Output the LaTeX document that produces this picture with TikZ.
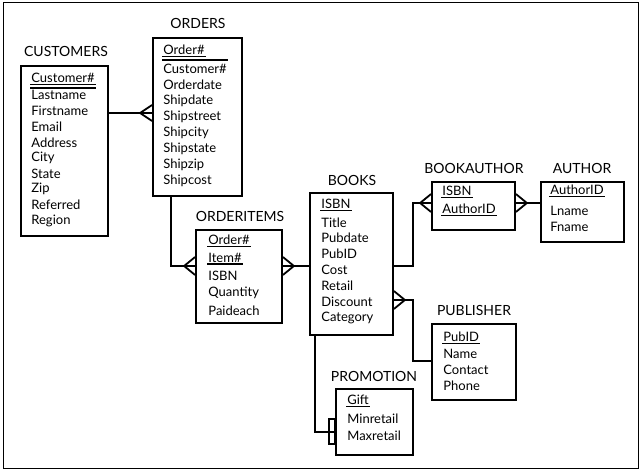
\documentclass[tikz,border=0pt]{standalone}
\usepackage{fontspec}
\setmainfont{Lato}
\begin{document}
\begin{tikzpicture}[x=1pt,y=-1pt,line width=1.8pt,
  box/.style={draw,rectangle,inner sep=0pt},
  ttl/.style={font=\fontsize{14}{14}\selectfont,inner sep=0pt},
  attr/.style={font=\fontsize{13}{13}\selectfont,anchor=west,inner sep=0.5pt},
  key/.style={attr,append after command={(\tikzlastnode.south west) edge[line width=1.3pt] (\tikzlastnode.south east)}}]
\useasboundingbox (0,0) rectangle (642,476);
\draw[line width=1pt] (3,3) rectangle (638,468);
% boxes
\node[box,minimum width=87,minimum height=170] (cust) at (64.5,151) {};
\node[box,minimum width=89,minimum height=158] (ord) at (197.5,117) {};
\node[box,minimum width=86,minimum height=93] (oi) at (239,276.5) {};
\node[box,minimum width=83,minimum height=142] (bk) at (351.5,264) {};
\node[box,minimum width=83,minimum height=48] (ba) at (473.5,206) {};
\node[box,minimum width=83,minimum height=60] (au) at (582.5,212) {};
\node[box,minimum width=84,minimum height=76] (pub) at (474,362) {};
\node[box,minimum width=77,minimum height=66] (pro) at (374.5,422) {};
% titles
\node[ttl] (tc) at (66,51) {CUSTOMERS};
\node[ttl] (to) at (198,23) {ORDERS};
\node[ttl] (toi) at (240,216) {ORDERITEMS};
\node[ttl] (tb) at (352,180) {BOOKS};
\node[ttl] (tba) at (474,168) {BOOKAUTHOR};
\node[ttl] (tau) at (582,168) {AUTHOR};
\node[ttl] (tp) at (474,310) {PUBLISHER};
\node[ttl] (tpr) at (374,376) {PROMOTION};
% CUSTOMERS
\node[key] (c1) at (30,78) {Customer\#};
\draw[line width=1.3pt] (30,88) -- (96,88);
\foreach \t/\y [count=\i] in {Lastname/95,Firstname/111,Email/127,Address/143,City/158,State/174,Zip/189,Referred/205,Region/221}
  \node[attr] (c\i x) at (30,\y) {\t};
% ORDERS
\node[key] (o1) at (162,50) {Order\#};
\draw[line width=1.3pt] (162,60) -- (228,60);
\foreach \t/\y [count=\i] in {Customer\#/69,Orderdate/85,Shipdate/101,Shipstreet/117,Shipcity/133,Shipstate/149,Shipzip/165,Shipcost/181}
  \node[attr] (o\i x) at (162,\y) {\t};
% ORDERITEMS
\node[key] (i1) at (207,240) {Order\#};
\node[key] (i2) at (207,258) {Item\#};
\foreach \t/\y [count=\i] in {ISBN/276,Quantity/293,Paideach/311}
  \node[attr] (i\i x) at (207,\y) {\t};
% BOOKS
\node[key] (b1) at (320,204) {ISBN};
\foreach \t/\y [count=\i] in {Title/223,Pubdate/238,PubID/254,Cost/270,Retail/286,Discount/302,Category/318}
  \node[attr] (b\i x) at (320,\y) {\t};
% BOOKAUTHOR
\node[key] (a1) at (441,191) {ISBN};
\node[key] (a2) at (441,209) {AuthorID};
% AUTHOR
\node[key] (u1) at (549,190) {AuthorID};
\node[attr] (u2) at (549,211) {Lname};
\node[attr] (u3) at (549,227) {Fname};
% PUBLISHER
\node[key] (p1) at (442,337) {PubID};
\foreach \t/\y [count=\i] in {Name/354,Contact/370,Phone/386}
  \node[attr] (p\i x) at (442,\y) {\t};
% PROMOTION
\node[key] (r1) at (346,400) {Gift};
\node[attr] (r2) at (346,419) {Minretail};
\node[attr] (r3) at (346,436) {Maxretail};
% connectors
\coordinate (e1) at (ord.west |- 0,113);
\draw (cust.east |- e1) -- (e1);
\draw (e1) ++(-12,0) -- ++(12,-8) (e1) ++(-12,0) -- ++(12,8);
\coordinate (e2) at (oi.west |- 0,266);
\draw (ord.south -| 171,0) -- (171,266) -- (e2);
\draw (e2) ++(-11,0) -- ++(11,-9) (e2) ++(-11,0) -- ++(11,9);
\coordinate (e3) at (oi.east |- e2);
\draw (e3) -- (bk.west |- e3);
\draw (e3) ++(11,0) -- ++(-11,-9) (e3) ++(11,0) -- ++(-11,9);
\coordinate (e4) at (ba.west |- 0,203);
\draw (bk.east |- 0,266) -- (413,266) -- (413,203) -- (e4);
\draw (e4) ++(-11,0) -- ++(11,-9) (e4) ++(-11,0) -- ++(11,9);
\coordinate (e5) at (ba.east |- e4);
\draw (e5) -- (au.west |- e5);
\draw (e5) ++(11,0) -- ++(-11,-9) (e5) ++(11,0) -- ++(-11,9);
\coordinate (e6) at (bk.east |- 0,300);
\draw (e6) -- (413,300) -- (413,361) -- (pub.west |- 0,361);
\draw (e6) ++(11,0) -- ++(-11,-9) (e6) ++(11,0) -- ++(-11,9);
\coordinate (e7) at (pro.west |- 0,432);
\draw (bk.south -| 315,0) -- (315,432) -- (e7);
\draw[line width=1.5pt] (e7) ++(-6,-13) rectangle ++(6,25);
\end{tikzpicture}
\end{document}
